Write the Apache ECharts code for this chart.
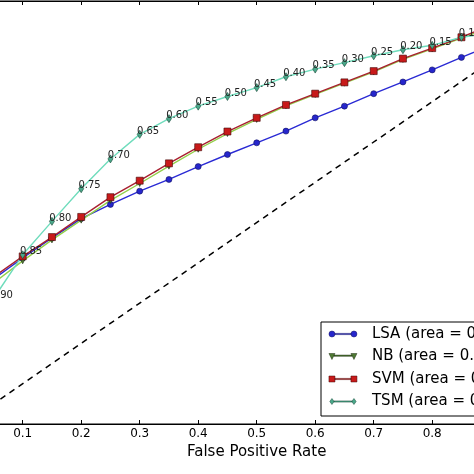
<!DOCTYPE html>
<html>
<head>
<meta charset="utf-8">
<script src="https://cdn.jsdelivr.net/npm/echarts@6.0.0/dist/echarts.min.js"></script>
<style>
	html, body { margin: 0; padding: 0; background: #fff; }
	#main { width: 474px; height: 474px; }
</style>
</head>
<body>
<div id="main"></div>
<script>
// 横轴：假阳性率
var fpr = [0, 0.05, 0.1, 0.15, 0.2, 0.25, 0.3, 0.35, 0.4, 0.45, 0.5, 0.55, 0.6, 0.65, 0.7, 0.75, 0.8, 0.85, 0.9, 0.95, 1.0];
// 各模型的真阳性率
var lsa = [0, 0.36, 0.412, 0.462, 0.51, 0.545, 0.578, 0.607, 0.639, 0.669, 0.698, 0.727, 0.760, 0.789, 0.820, 0.849, 0.879, 0.910, 0.94, 0.97, 1.0];
var nb = [0, 0.35, 0.405, 0.457, 0.506, 0.555, 0.597, 0.640, 0.682, 0.721, 0.756, 0.790, 0.818, 0.846, 0.874, 0.905, 0.931, 0.958, 0.985, 0.995, 1.0];
var svm = [0, 0.365, 0.416, 0.464, 0.514, 0.563, 0.604, 0.647, 0.687, 0.726, 0.760, 0.792, 0.820, 0.848, 0.876, 0.907, 0.933, 0.960, 0.99, 1.0, 1.0];
var tsm = [0, 0.311, 0.420, 0.503, 0.584, 0.658, 0.719, 0.758, 0.789, 0.813, 0.835, 0.862, 0.881, 0.897, 0.914, 0.929, 0.940, 0.960, 0.97, 0.985, 1.0];
// TSM 各点的阈值标注
var tsmThresholds = ['', '0.90', '0.85', '0.80', '0.75', '0.70', '0.65', '0.60', '0.55', '0.50', '0.45', '0.40', '0.35', '0.30', '0.25', '0.20', '0.15', '0.10', '0.05', '', ''];
var legendNames = ['LSA (area = 0.68)', 'NB (area = 0.71)', 'SVM (area = 0.72)', 'TSM (area = 0.77)'];
var xTicks = { min: 0, max: 1, interval: 0.1 };

function pairs(ys) {
	var out = [];
	for (var i = 0; i < fpr.length; i++) {
		out.push([fpr[i], ys[i]]);
	}
	return out;
}

var FONT = 'DejaVu Sans';
var myChart = echarts.init(document.getElementById('main'));

var option = {
	animation: false,
	backgroundColor: '#fff',
	grid: {
		left: -35.8,
		right: -75.2,
		top: 1,
		bottom: 50,
		show: true,
		borderColor: '#000',
		borderWidth: 1,
		containLabel: false,
		outerBoundsMode: 'none'
	},
	legend: {
		orient: 'vertical',
		left: 321,
		top: 322,
		padding: [3.5, 12, 6, 7.7],
		itemGap: 5.5,
		itemWidth: 28,
		itemHeight: 6,
		backgroundColor: '#fff',
		borderColor: '#000',
		borderWidth: 1,
		borderRadius: 0,
		textStyle: {
			fontFamily: FONT,
			fontSize: 15,
			color: '#000',
			lineHeight: 17,
			padding: [0, 0, 0, 10]
		},
		data: [{
			name: legendNames[0],
			icon: 'path://M0,3A3,3,0,1,1,6,3A3,3,0,1,1,0,3ZM6,2.4L22,2.4L22,3.6L6,3.6ZM22,3A3,3,0,1,1,28,3A3,3,0,1,1,22,3Z',
			itemStyle: { color: '#2626cc', borderColor: '#101060', borderWidth: 0.5 }
		}, {
			name: legendNames[1],
			icon: 'path://M0,0L6,0L3,6ZM5,1.6L23,1.6L23,2.8L5,2.8ZM22,0L28,0L25,6Z',
			itemStyle: { color: '#4f7a33', borderColor: '#203015', borderWidth: 0.5 }
		}, {
			name: legendNames[2],
			icon: 'path://M0,0L6,0L6,6L0,6ZM6,2.4L22,2.4L22,3.6L6,3.6ZM22,0L28,0L28,6L22,6Z',
			itemStyle: { color: '#c81a1a', borderColor: '#400808', borderWidth: 0.5 }
		}, {
			name: legendNames[3],
			icon: 'path://M0,3L0,3ZM3,0L5.2,3L3,6L0.8,3ZM5,2.4L23,2.4L23,3.6L5,3.6ZM25,0L27.2,3L25,6L22.8,3ZM28,3L28,3Z',
			itemStyle: { color: '#4aa88a', borderColor: '#1a4a3a', borderWidth: 0.5 }
		}]
	},
	xAxis: [{
		type: 'value',
		position: 'bottom',
		min: xTicks.min,
		max: xTicks.max,
		interval: xTicks.interval,
		name: 'False Positive Rate',
		nameLocation: 'middle',
		nameGap: 21,
		nameTextStyle: { fontFamily: FONT, fontSize: 15, color: '#000' },
		axisLine: { lineStyle: { color: '#000', width: 1 } },
		axisTick: { inside: true, length: 4, lineStyle: { color: '#000' } },
		axisLabel: {
			fontFamily: FONT,
			fontSize: 12,
			color: '#000',
			margin: 4,
			formatter: function (v) { return v.toFixed(1); }
		},
		splitLine: { show: false }
	}, {
		type: 'value',
		position: 'top',
		min: xTicks.min,
		max: xTicks.max,
		interval: xTicks.interval,
		axisLine: { lineStyle: { color: '#000', width: 1 } },
		axisTick: { inside: true, length: 4, lineStyle: { color: '#000' } },
		axisLabel: { show: false },
		splitLine: { show: false }
	}],
	yAxis: {
		type: 'value',
		min: 0,
		max: 1.05,
		interval: 0.2,
		axisLine: { lineStyle: { color: '#000' } },
		axisTick: { inside: true, length: 4 },
		axisLabel: { fontFamily: FONT, fontSize: 12, color: '#000' },
		splitLine: { show: false }
	},
	series: [{
		// 对角参考线
		name: 'chance',
		type: 'line',
		data: [[0, 0], [1, 1]],
		symbol: 'none',
		lineStyle: { color: '#000', width: 1.5, type: [6, 5] },
		silent: true
	}, {
		name: legendNames[0],
		type: 'line',
		data: pairs(lsa),
		symbol: 'circle',
		symbolSize: 6,
		lineStyle: { color: '#2a2ad4', width: 1.4 },
		itemStyle: { color: '#2626cc', borderColor: '#101060', borderWidth: 0.6 }
	}, {
		name: legendNames[1],
		type: 'line',
		data: pairs(nb),
		symbol: 'triangle',
		symbolRotate: 180,
		symbolSize: 6,
		lineStyle: { color: '#92cf4a', width: 1.4 },
		itemStyle: { color: '#4f7a33', borderColor: '#203015', borderWidth: 0.6 }
	}, {
		name: legendNames[2],
		type: 'line',
		data: pairs(svm),
		symbol: 'rect',
		symbolSize: 7,
		lineStyle: { color: '#a82030', width: 1.4 },
		itemStyle: { color: '#c81a1a', borderColor: '#400808', borderWidth: 0.6 }
	}, {
		name: legendNames[3],
		type: 'line',
		data: pairs(tsm),
		symbol: 'diamond',
		symbolSize: [5, 8],
		lineStyle: { color: '#6fdcbc', width: 1.4 },
		itemStyle: { color: '#4aa88a', borderColor: '#1a4a3a', borderWidth: 0.6 },
		label: {
			show: true,
			position: [0, 6],
			align: 'left',
			verticalAlign: 'bottom',
			fontFamily: FONT,
			fontSize: 10,
			color: '#222',
			formatter: function (p) { return tsmThresholds[p.dataIndex]; }
		},
		labelLayout: { hideOverlap: false }
	}]
};
myChart.setOption(option);
</script>
</body>
</html>
